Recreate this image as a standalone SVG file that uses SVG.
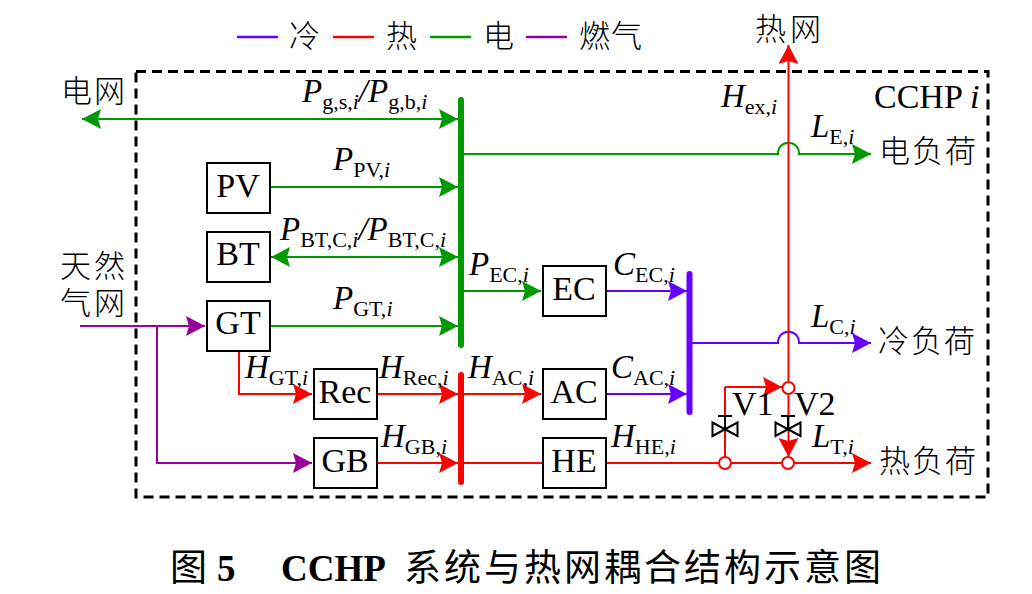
<svg xmlns="http://www.w3.org/2000/svg" width="1032" height="594" viewBox="0 0 1032 594">
<style>
text{font-family:"Liberation Serif","Noto Sans CJK SC",serif;fill:#000}
.n{font-size:34px}
.m{font-size:33px;font-style:italic}
.s{font-size:22px;font-style:normal}
.si{font-size:22px;font-style:italic}
.c{font-family:"Noto Sans CJK SC",sans-serif;font-size:31px;font-weight:300}
.cap{font-family:"Noto Sans CJK SC",sans-serif;font-size:37px;font-weight:400}
.capl{font-size:37px;font-weight:bold}
.box{fill:#fff;stroke:#000;stroke-width:2}
.w{fill:none;stroke-width:2}
.g{stroke:#009900}.r{stroke:#ff0000}.p{stroke:#6600ff}.v{stroke:#990099}
.ag{marker-end:url(#ag)}.ar{marker-end:url(#ar)}.ap{marker-end:url(#ap)}.av{marker-end:url(#av)}
.bus{stroke-width:6;stroke-linecap:round;fill:none}
.j{fill:#fff;stroke:#ff0000;stroke-width:2}
.valve{fill:none;stroke:#000;stroke-width:2}
</style>
<defs>
<marker id="ag" markerUnits="userSpaceOnUse" markerWidth="20" markerHeight="20" refX="19" refY="10" orient="auto-start-reverse"><path d="M0 0L19 10L0 20L3 10z" fill="#009900"/></marker>
<marker id="ar" markerUnits="userSpaceOnUse" markerWidth="20" markerHeight="20" refX="19" refY="10" orient="auto"><path d="M0 0L19 10L0 20L3 10z" fill="#ff0000"/></marker>
<marker id="ap" markerUnits="userSpaceOnUse" markerWidth="20" markerHeight="20" refX="19" refY="10" orient="auto"><path d="M0 0L19 10L0 20L3 10z" fill="#6600ff"/></marker>
<marker id="av" markerUnits="userSpaceOnUse" markerWidth="20" markerHeight="20" refX="19" refY="10" orient="auto"><path d="M0 0L19 10L0 20L3 10z" fill="#990099"/></marker>
</defs>
<rect id="boundary" x="136" y="71.500" width="852" height="425.500" fill="none" stroke="#000" stroke-width="3" stroke-dasharray="10 6"/>
<g id="legend" fill="none" stroke-width="2.500" stroke-linecap="round">
<path d="M238 37H277" stroke="#6600ff"/><path d="M334 37H373" stroke="#ff0000"/><path d="M431 37H470" stroke="#009900"/><path d="M527 37H566" stroke="#990099"/>
<text class="c" x="289" y="47" stroke="none">冷</text><text class="c" x="386" y="47" stroke="none">热</text><text class="c" x="483" y="47" stroke="none">电</text><text class="c" x="579" y="47" letter-spacing="1" stroke="none">燃气</text>
</g>
<g id="connectors">
<path class="w g ag" style="marker-start:url(#ag)" d="M82 119H458"/>
<path class="w g ag" d="M270 187H458"/>
<path class="w g ag" style="marker-start:url(#ag)" d="M271 257H458"/>
<path class="w g ag" d="M270 326H458"/>
<path class="w g ag" d="M461 291H541"/>
<path class="w g ag" d="M461 154H778C778 139 799 139 799 154H871"/>
<path class="w v av" d="M80 326H205"/>
<path class="w v av" d="M157 326V463H312"/>
<path class="w r ar" d="M239 351V394H312"/>
<path class="w r ar" d="M377 394H458"/>
<path class="w r ar" d="M377 463H458"/>
<path class="w r ar" d="M461 394H541"/>
<path class="w r" d="M461 463H542"/>
<path class="w p ap" d="M606 291H687"/>
<path class="w p ap" d="M606 394H687"/>
<path class="w p ap" d="M692 343H778C778 328 799 328 799 343H871"/>
<path class="w r ar" d="M606 463H871"/>
<path class="w r" d="M725 463V387"/>
<path class="w r ar" d="M725 387H782"/>
<path class="w r ar" d="M788.500 381V45"/>
<path class="w r ar" d="M788.500 395V457"/>
<path class="bus" stroke="#009900" d="M461 100V345"/>
<path class="bus" stroke="#ff0000" d="M461 375V482"/>
<path class="bus" stroke="#6600ff" d="M689.500 274V412"/>
</g>
<g id="junctions">
<circle class="j" cx="788.500" cy="388" r="6"/><circle class="j" cx="725" cy="463" r="6"/><circle class="j" cx="788" cy="463" r="6"/>
</g>
<g id="V1"><path class="valve" d="M718 416H732M725 416V429M712.500 422.500L737.500 436V422.500L712.500 436Z"/><text class="n" x="732" y="415">V1</text></g>
<g id="V2"><path class="valve" d="M781 416H795M788 416V429M775.500 422.500L800.500 436V422.500L775.500 436Z"/><text class="n" x="794" y="415">V2</text></g>
<g id="PV"><rect class="box" x="207" y="163" width="63" height="50"/><text class="n" x="238" y="197" text-anchor="middle">PV</text></g>
<g id="BT"><rect class="box" x="207" y="232" width="63" height="50"/><text class="n" x="238" y="265" text-anchor="middle">BT</text></g>
<g id="GT"><rect class="box" x="207" y="301" width="63" height="50"/><text class="n" x="238" y="334" text-anchor="middle">GT</text></g>
<g id="Rec"><rect class="box" x="314" y="369" width="63" height="50"/><text class="n" x="345" y="403" text-anchor="middle">Rec</text></g>
<g id="GB"><rect class="box" x="314" y="438" width="63" height="50"/><text class="n" x="345" y="472" text-anchor="middle">GB</text></g>
<g id="EC"><rect class="box" x="543" y="266" width="63" height="50"/><text class="n" x="574" y="300" text-anchor="middle">EC</text></g>
<g id="AC"><rect class="box" x="543" y="369" width="63" height="50"/><text class="n" x="574" y="403" text-anchor="middle">AC</text></g>
<g id="HE"><rect class="box" x="543" y="438" width="63" height="50"/><text class="n" x="574" y="472" text-anchor="middle">HE</text></g>
<g id="labels">
<text class="m" x="302" y="102">P<tspan class="s" dy="7">g,s,</tspan><tspan class="si">i</tspan><tspan dy="-7">/P</tspan><tspan class="s" dy="7">g,b,</tspan><tspan class="si">i</tspan></text>
<text class="m" x="333" y="170">P<tspan class="s" dy="7">PV,</tspan><tspan class="si">i</tspan></text>
<text class="m" x="280" y="240">P<tspan class="s" dy="7">BT,C,</tspan><tspan class="si">i</tspan><tspan dy="-7">/P</tspan><tspan class="s" dy="7">BT,C,</tspan><tspan class="si">i</tspan></text>
<text class="m" x="333" y="309">P<tspan class="s" dy="7">GT,</tspan><tspan class="si">i</tspan></text>
<text class="m" x="245" y="378">H<tspan class="s" dy="7">GT,</tspan><tspan class="si">i</tspan></text>
<text class="m" x="379" y="378">H<tspan class="s" dy="7">Rec,</tspan><tspan class="si">i</tspan></text>
<text class="m" x="381" y="447">H<tspan class="s" dy="7">GB,</tspan><tspan class="si">i</tspan></text>
<text class="m" x="469" y="275">P<tspan class="s" dy="7">EC,</tspan><tspan class="si">i</tspan></text>
<text class="m" x="468" y="378">H<tspan class="s" dy="7">AC,</tspan><tspan class="si">i</tspan></text>
<text class="m" x="613" y="275">C<tspan class="s" dy="7">EC,</tspan><tspan class="si">i</tspan></text>
<text class="m" x="611" y="378">C<tspan class="s" dy="7">AC,</tspan><tspan class="si">i</tspan></text>
<text class="m" x="611" y="447">H<tspan class="s" dy="7">HE,</tspan><tspan class="si">i</tspan></text>
<text class="m" x="721" y="107">H<tspan class="s" dy="7">ex,</tspan><tspan class="si">i</tspan></text>
<text class="m" x="811" y="137">L<tspan class="s" dy="7">E,</tspan><tspan class="si">i</tspan></text>
<text class="m" x="811" y="327">L<tspan class="s" dy="7">C,</tspan><tspan class="si">i</tspan></text>
<text class="m" x="812" y="447">L<tspan class="s" dy="7">T,</tspan><tspan class="si">i</tspan></text>
<text class="n" x="874" y="108">CCHP <tspan font-style="italic">i</tspan></text>
<text class="c" x="755" y="40" letter-spacing="4">热网</text>
<text class="c" x="61" y="102" letter-spacing="2">电网</text>
<text class="c" x="60" y="277" letter-spacing="3">天然</text>
<text class="c" x="60" y="314" letter-spacing="3">气网</text>
<text class="c" x="879" y="162" letter-spacing="2">电负荷</text>
<text class="c" x="878" y="352" letter-spacing="2">冷负荷</text>
<text class="c" x="879" y="472" letter-spacing="2">热负荷</text>
</g>
<g id="caption">
<text class="cap" x="170" y="581">图</text>
<text class="capl" x="217" y="581">5</text>
<text class="capl" x="281" y="581">CCHP</text>
<text class="cap" x="404" y="581" letter-spacing="3">系统与热网耦合结构示意图</text>
</g>
</svg>
